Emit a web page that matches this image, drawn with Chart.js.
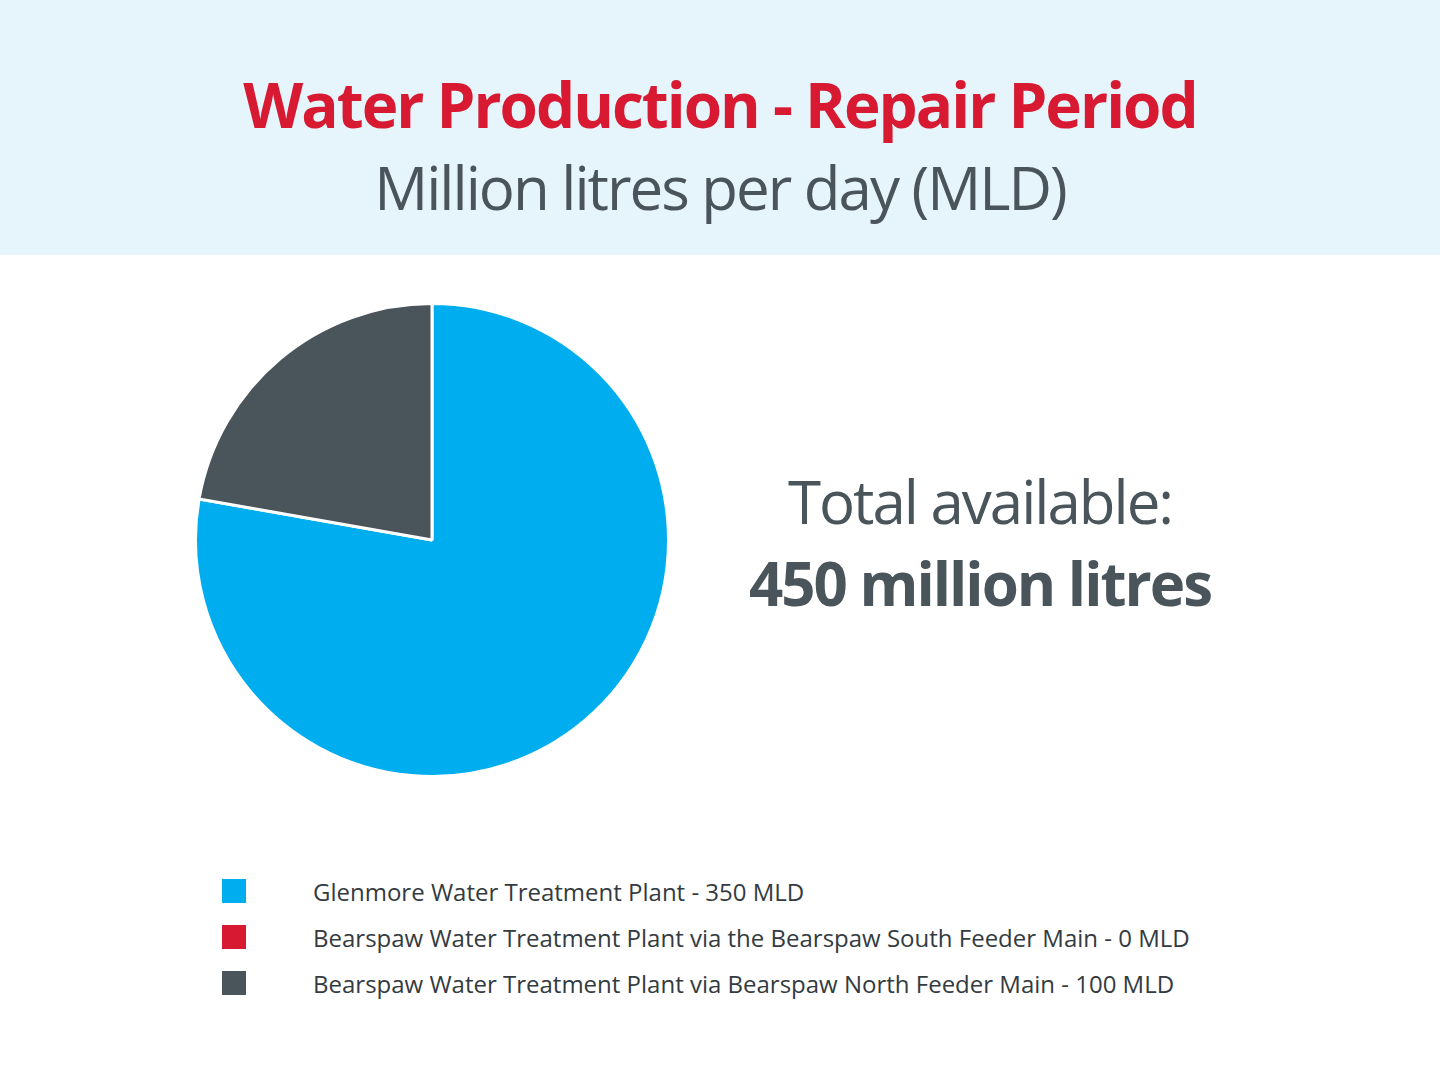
<!DOCTYPE html>
<html lang="en">
<head>
  <meta charset="UTF-8" />
  <title>Water Production - Repair Period</title>
  <script src="https://cdn.jsdelivr.net/npm/chart.js"></script>
  <style>
    body { margin: 0; width: 1440px; height: 1080px; background: #fff; font-family: "Open Sans", "Noto Sans", sans-serif; position: relative; overflow: hidden; }
    .header { position: absolute; left: 0; top: 0; width: 1440px; height: 255px; background: #e6f4fb; text-align: center; }
    .title { position: absolute; top: 62px; width: 100%; font-size: 62px; font-weight: 700; color: #d71a31; letter-spacing: -2px; }
    .sub { position: absolute; top: 146px; width: 100%; font-size: 60px; color: #4a545b; letter-spacing: -2px; }
    #pieWrap { position: absolute; left: 190px; top: 298px; width: 484px; height: 484px; }
    .total { position: absolute; left: 700px; width: 560px; text-align: center; color: #4a545b; letter-spacing: -2px; }
    .legend { position: absolute; left: 222px; top: 868px; }
    .row { height: 46px; display: flex; align-items: center; font-size: 24px; color: #333b41; }
    .sw { width: 24px; height: 24px; margin-right: 67px; }
  </style>
</head>
<body>
  <div class="header">
    <div class="title">Water Production - Repair Period</div>
    <div class="sub">Million litres per day (MLD)</div>
  </div>

  <div id="pieWrap"><canvas id="pie" width="484" height="484"></canvas></div>

  <div class="total" style="top:460px;font-size:60px;">Total available:</div>
  <div class="total" style="top:542px;font-size:60px;font-weight:700;">450 million litres</div>

  <div class="legend" id="legend"></div>

  <script>
    const labels = [
      'Glenmore Water Treatment Plant - 350 MLD',
      'Bearspaw Water Treatment Plant via the Bearspaw South Feeder Main - 0 MLD',
      'Bearspaw Water Treatment Plant via Bearspaw North Feeder Main - 100 MLD'
    ];
    const values = [350, 0, 100];
    const colors = ['#00aeef', '#d71a31', '#4a545b'];

    new Chart(document.getElementById('pie'), {
      type: 'pie',
      data: {
        labels: labels,
        datasets: [{ data: values, backgroundColor: colors, borderColor: '#fff', borderWidth: 3 }]
      },
      options: {
        responsive: false,
        animation: false,
        layout: { padding: 4 },
        plugins: { legend: { display: false }, tooltip: { enabled: false } }
      }
    });

    document.getElementById('legend').innerHTML = labels.map((l, i) =>
      `<div class="row"><div class="sw" style="background:${colors[i]}"></div>${l}</div>`
    ).join('');
  </script>
</body>
</html>
